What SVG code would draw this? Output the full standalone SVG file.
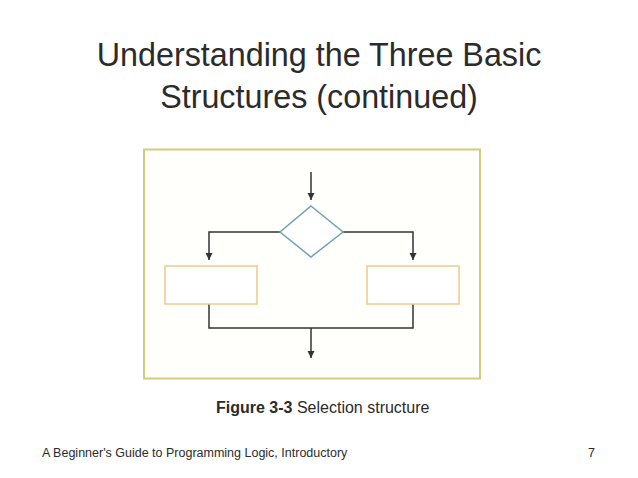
<svg xmlns="http://www.w3.org/2000/svg" width="638" height="478" viewBox="0 0 638 478">
<defs>
<style>
.t{font-family:"Liberation Sans",Arial,sans-serif;fill:#2b2b2b}
.ln{fill:none;stroke:#333;stroke-width:1.5}
.box{fill:#fff;stroke:#f0c98a;stroke-width:1.5}
</style>
<marker id="ah" viewBox="0 0 10 10" refX="10" refY="5" markerWidth="7" markerHeight="8" markerUnits="userSpaceOnUse" orient="auto"><path d="M0,0 L10,5 L0,10 Z" fill="#333"/></marker>
</defs>
<rect width="638" height="478" fill="#fff"/>
<text class="t" x="319" y="66" font-size="32.3" text-anchor="middle">Understanding the Three Basic</text>
<text class="t" x="319" y="108" font-size="32.3" text-anchor="middle">Structures (continued)</text>
<rect x="144" y="149.5" width="336" height="229" fill="#fffffc" stroke="#d2cc7c" stroke-width="2"/>
<g id="connectors">
<line class="ln" x1="311" y1="172" x2="311" y2="200" marker-end="url(#ah)"/>
<polyline class="ln" points="280,232 209,232 209,260" marker-end="url(#ah)"/>
<polyline class="ln" points="343,232 413,232 413,260" marker-end="url(#ah)"/>
<polyline class="ln" points="209,304 209,328 413,328 413,304"/>
<line class="ln" x1="311" y1="328" x2="311" y2="358" marker-end="url(#ah)"/>
</g>
<g id="decision"><polygon points="311,206 343,232 311,257 280,232" fill="#fff" stroke="#6fa3b0" stroke-width="1.5"/></g>
<g id="left"><rect class="box" x="165" y="266" width="92" height="38"/></g>
<g id="right"><rect class="box" x="367" y="266" width="92" height="38"/></g>
<text class="t" x="216" y="413" font-size="16"><tspan font-weight="bold">Figure 3-3</tspan> Selection structure</text>
<text class="t" x="42" y="457" font-size="12.5">A Beginner's Guide to Programming Logic, Introductory</text>
<text class="t" x="588" y="457" font-size="12.5">7</text>
</svg>
